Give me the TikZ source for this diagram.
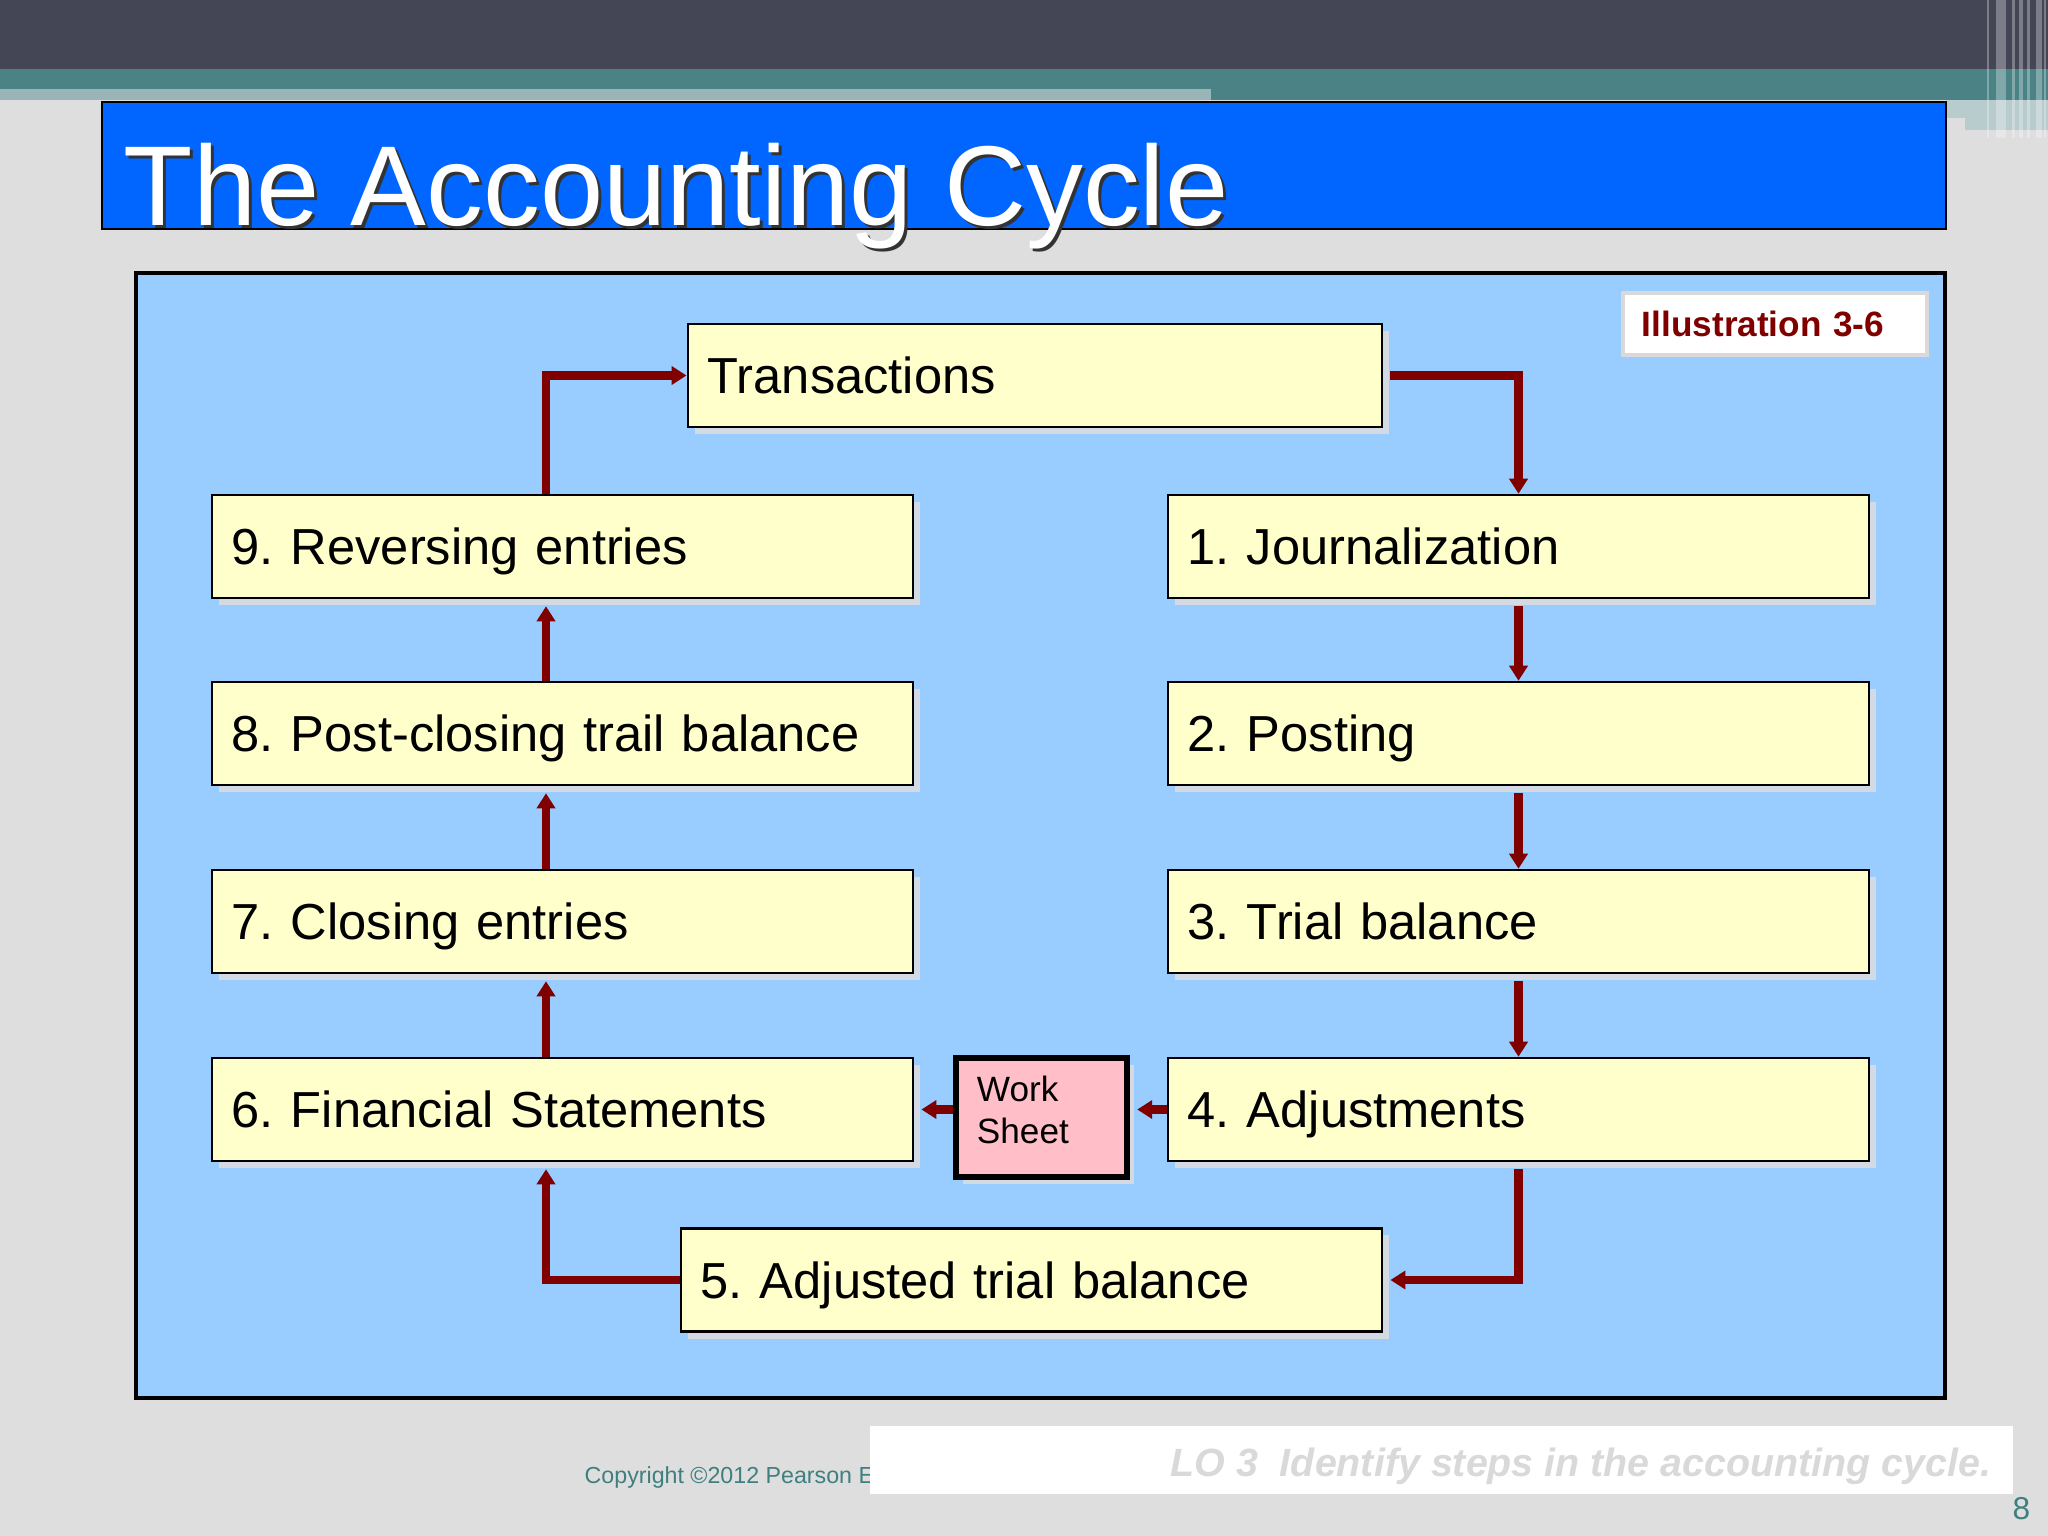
\documentclass[tikz,border=0pt]{standalone}
\usepackage{fontspec}
\setmainfont{Liberation Sans}
\usetikzlibrary{arrows.meta,positioning,calc,shadows}
\frenchspacing
\definecolor{slidegray}{RGB}{222,222,222}
\definecolor{topdark}{RGB}{68,69,85}
\definecolor{topteal}{RGB}{74,130,134}
\definecolor{toplight}{RGB}{154,181,184}
\definecolor{titleblue}{RGB}{0,102,255}
\definecolor{panelblue}{RGB}{153,204,255}
\definecolor{boxyellow}{RGB}{255,255,204}
\definecolor{sheetpink}{RGB}{255,190,200}
\definecolor{arrowred}{RGB}{128,0,0}
\definecolor{shadowgray}{RGB}{212,218,228}
\definecolor{footteal}{RGB}{63,127,127}
\tikzset{
  boxshadow/.style={drop shadow={shadow xshift=0.07cm, shadow yshift=-0.07cm, fill=shadowgray, opacity=1}},
  stepbox/.style={draw, line width=0.7pt, fill=boxyellow, boxshadow,
    minimum height=1.03cm, inner xsep=0.2cm, text width=6.61cm, align=left,
    font=\fontsize{14.4}{17}\selectfont, text height=13pt, text depth=2.7pt},
  flow/.style={draw=arrowred, line width=2.3pt, -{Triangle[length=0.15cm,width=0.18cm]}},
  slidetext/.style={anchor=base west, inner sep=0pt}
}
\begin{document}
\begin{tikzpicture}[x=0.01cm, y=-0.01cm]
% slide background and top bands
\fill[slidegray] (0,0) rectangle (2048,1536);
\useasboundingbox (0,0) rectangle (2048,1536);
\fill[topdark] (0,0) rectangle (2048,69);
\fill[topteal] (0,69) rectangle (2048,100);
\fill[toplight] (0,89) rectangle (1211,100);
\fill[toplight!70!white] (1946,100) rectangle (2048,118);
\fill[toplight!70!white] (1965,118) rectangle (2048,130);
\foreach \x/\w in {1987/2, 1996/10, 2012/3, 2019/4, 2027/3, 2036/6, 2044/2}
  {\fill[white, opacity=0.3] (\x,0) rectangle (\x+\w,138);}

% title
\draw[fill=titleblue, line width=0.8pt] (102,102) rectangle (1946,229);
\node[slidetext, text=black!80, font=\fontsize{32.3}{38}\selectfont] (titleshadow) at (126,228) {The Accounting Cycle};
\node[slidetext, text=white, font=\fontsize{32.3}{38}\selectfont] (title) at (123,225) {The Accounting Cycle};

% panel
\draw[fill=panelblue, line width=0.9pt] (136,273) rectangle (1945,1398);
\node[draw=black!15, line width=1.3pt, fill=white, minimum width=3.04cm, minimum height=0.62cm,
  inner xsep=0.19cm, text width=2.66cm, align=left, text=arrowred,
  font=\fontsize{10}{12}\selectfont\bfseries, text height=9pt, text depth=1.9pt] (illus) at (1775,324) {Illustration 3-6};

% steps
\node[stepbox, text width=6.54cm] (tr) at (1035,375.5) {Transactions};
\foreach \n/\lbl/\y in {1/1. Journalization/546.5, 2/2. Posting/733.5, 3/3. Trial balance/921.5, 4/4. Adjustments/1109.5}
  {\node[stepbox] (s\n) at (1518.5,\y) {\lbl};}
\foreach \n/\lbl/\y in {9/9. Reversing entries/546.5, 8/8. Post-closing trail balance/733.5, 7/7. Closing entries/921.5, 6/6. Financial Statements/1109.5}
  {\node[stepbox] (s\n) at (562.5,\y) {\lbl};}
\node[stepbox] (s5) at (1031.5,1280) {5. Adjusted trial balance};
\node[draw, line width=1.8pt, fill=sheetpink, boxshadow, minimum width=1.71cm, minimum height=1.19cm,
  inner xsep=0.21cm, text width=1.29cm, align=left, font=\fontsize{10}{12}\selectfont] (ws) at (1041.5,1117.5)
  {Work\\Sheet\rule[-0.16cm]{0pt}{0pt}};

% arrows
\coordinate (lx) at (546,0);
\draw[flow, shorten <=0.07cm] (tr.east) -| (s1.north);
\foreach \a/\b in {1/2,2/3,3/4}
  {\draw[flow, shorten <=0.07cm] (s\a.south) -- (s\b.north);}
\draw[flow, shorten <=0.07cm, shorten >=0.07cm] (s4.south) |- (s5.east);
\draw[flow, shorten >=0.07cm] (s5.west) -| (s6.south -| lx);
\foreach \a/\b in {6/7,7/8,8/9}
  {\draw[flow, shorten >=0.07cm] (s\a.north -| lx) -- (s\b.south -| lx);}
\draw[flow] (s9.north -| lx) |- (tr.west);
\draw[flow, shorten >=0.07cm] (s4.west) -- (s4.west -| ws.east);
\draw[flow, shorten >=0.07cm] (ws.west |- s6.east) -- (s6.east);

% footer
\node[slidetext, text=footteal, font=\fontsize{6.6}{8}\selectfont] (copy) at (584,1483) {Copyright ©2012 Pearson E};
\fill[white] (870,1426) rectangle (2013,1494);
\node[anchor=base east, inner sep=0pt, text=black!15, font=\fontsize{11.2}{13}\selectfont\bfseries\itshape] (lo) at (1992,1476) {LO 3\ \ Identify steps in the accounting cycle.};
\node[slidetext, text=footteal, font=\fontsize{9}{11}\selectfont] (pagenum) at (2012,1519) {8};
\end{tikzpicture}
\end{document}
